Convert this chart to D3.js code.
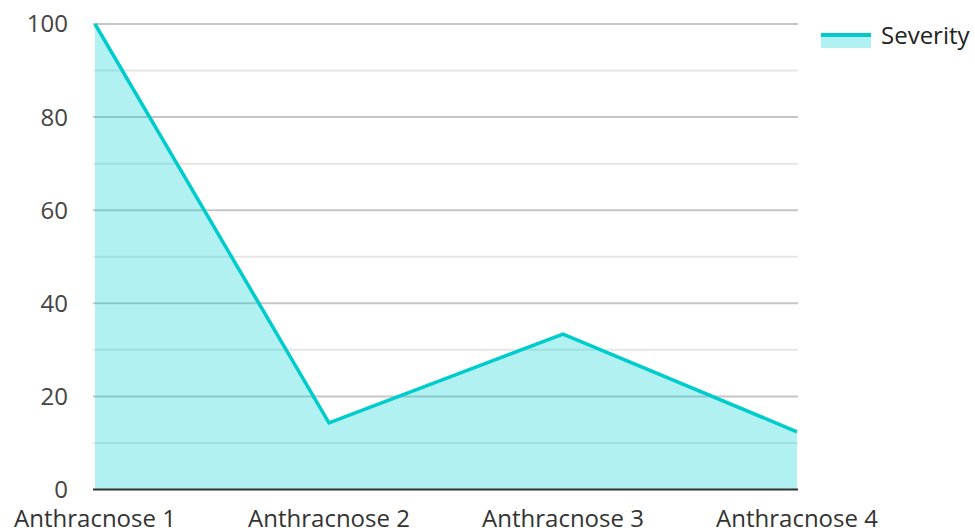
<!DOCTYPE html>
<meta charset="utf-8">
<script src="https://d3js.org/d3.v7.min.js"></script>
<style>
body { margin: 0; background: #fff; }
text { font-family: "Open Sans", "Noto Sans", sans-serif; }
</style>
<body>
<script>

// chart data
var categories = ["Anthracnose 1", "Anthracnose 2", "Anthracnose 3", "Anthracnose 4"];
var severity = [100, 14.3, 33.4, 12.4];
var yTicks = [0, 20, 40, 60, 80, 100];
var seriesName = "Severity";

var width = 975, height = 531;
var margin = {top: 24, right: 178, bottom: 41.5, left: 95};

var svg = d3.select("body").append("svg")
    .attr("width", width)
    .attr("height", height);

var x = d3.scalePoint()
    .domain(categories)
    .range([margin.left, width - margin.right]);

var y = d3.scaleLinear()
    .domain([0, 100])
    .range([height - margin.bottom, margin.top]);

// grid lines, minor every 10, major every 20
var grid = svg.append("g");
grid.selectAll("line")
    .data(d3.range(10, 101, 10))
    .enter().append("line")
      .attr("x1", margin.left - 2)
      .attr("x2", width - margin.right + 1)
      .attr("y1", function(d) { return y(d); })
      .attr("y2", function(d) { return y(d); })
      .attr("stroke", function(d) { return d % 20 == 0 ? "#c6c6c6" : "#e6e6e6"; })
      .attr("stroke-width", 2);

// area + line
var area = d3.area()
    .x(function(d, i) { return x(categories[i]); })
    .y0(y(0))
    .y1(function(d) { return y(d); });

var line = d3.line()
    .x(function(d, i) { return x(categories[i]); })
    .y(function(d) { return y(d); });

svg.append("path")
    .datum(severity)
    .attr("d", area)
    .attr("fill", "rgba(0,207,207,0.3)");

svg.append("path")
    .datum(severity)
    .attr("d", line)
    .attr("fill", "none")
    .attr("stroke", "#00cccc")
    .attr("stroke-width", 3.5)
    .attr("stroke-linejoin", "miter");

// baseline
svg.append("line")
    .attr("x1", margin.left - 2)
    .attr("x2", width - margin.right + 1)
    .attr("y1", y(0))
    .attr("y2", y(0))
    .attr("stroke", "#333")
    .attr("stroke-width", 2);

// y tick labels
svg.append("g").selectAll("text")
    .data(yTicks)
    .enter().append("text")
      .attr("x", 68)
      .attr("y", function(d) { return y(d); })
      .attr("dy", "0.35em")
      .attr("text-anchor", "end")
      .attr("font-size", "24px")
      .attr("fill", "#444")
      .text(String);

// x labels
svg.append("g").selectAll("text")
    .data(categories)
    .enter().append("text")
      .attr("x", function(d) { return x(d); })
      .attr("y", 527)
      .attr("text-anchor", "middle")
      .attr("font-size", "24px")
      .attr("fill", "#333")
      .text(String);

// legend
var legend = svg.append("g").attr("transform", "translate(821,33)");
legend.append("rect")
    .attr("width", 50).attr("height", 15)
    .attr("fill", "rgba(0,207,207,0.3)");
legend.append("rect")
    .attr("width", 50).attr("height", 4)
    .attr("fill", "#00cccc");
legend.append("text")
    .attr("x", 60)
    .attr("y", 3)
    .attr("dy", "0.35em")
    .attr("font-size", "24px")
    .attr("fill", "#222")
    .text(seriesName);

</script>
</body>
